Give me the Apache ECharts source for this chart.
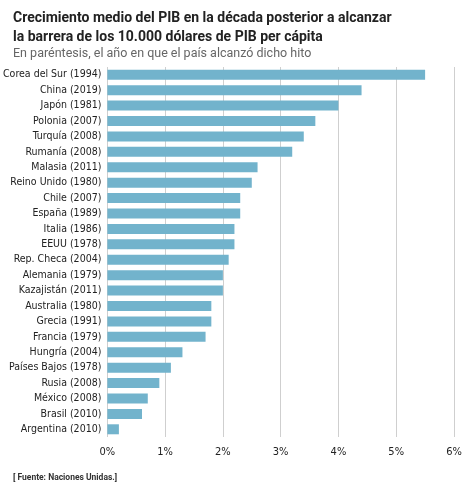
<!DOCTYPE html>
<html>
<head>
<meta charset="utf-8">
<script src="https://cdn.jsdelivr.net/npm/echarts@6/dist/echarts.min.js"></script>
<style>
html,body{margin:0;padding:0;background:#fff;}
#chart{width:474px;height:482px;}
</style>
</head>
<body>
<div id="chart"></div>
<script>
// países (de mayor a menor crecimiento)
var paises = ['Corea del Sur (1994)','China (2019)','Japón (1981)','Polonia (2007)','Turquía (2008)','Rumanía (2008)','Malasia (2011)','Reino Unido (1980)','Chile (2007)','España (1989)','Italia (1986)','EEUU (1978)','Rep. Checa (2004)','Alemania (1979)','Kazajistán (2011)','Australia (1980)','Grecia (1991)','Francia (1979)','Hungría (2004)','Países Bajos (1978)','Rusia (2008)','México (2008)','Brasil (2010)','Argentina (2010)'];
// crecimiento medio (%)
var crecimiento = [5.5,4.4,4.0,3.6,3.4,3.2,2.6,2.5,2.3,2.3,2.2,2.2,2.1,2.0,2.0,1.8,1.8,1.7,1.3,1.1,0.9,0.7,0.6,0.2];

var fuente = '"DejaVu Sans Condensed", "Liberation Sans Narrow", sans-serif';
var myChart = echarts.init(document.getElementById('chart'));
var option = {
    title: [
        {
            text: 'Crecimiento medio del PIB en la década posterior a alcanzar\nla barrera de los 10.000 dólares de PIB per cápita',
            left: 8, top: 4,
            textStyle: {fontFamily: 'Roboto, sans-serif', fontSize: 14, fontWeight: 'bold', color: '#222', lineHeight: 19}
        },
        {
            text: 'En paréntesis, el año en que el país alcanzó dicho hito',
            left: 8, top: 42,
            textStyle: {fontFamily: 'Roboto, sans-serif', fontSize: 12.5, fontWeight: 'normal', color: '#666'}
        },
        {
            text: '[ Fuente: Naciones Unidas.]',
            left: 8, top: 468,
            textStyle: {fontFamily: 'Roboto, sans-serif', fontSize: 8.5, fontWeight: 'bold', color: '#333'}
        }
    ],
    grid: {left: 107, right: 20, top: 67, bottom: 45},
    xAxis: {
        type: 'value', min: 0, max: 6, interval: 1,
        axisLabel: {formatter: '{value}%', fontFamily: fuente, fontSize: 11, color: '#222', margin: 10},
        axisLine: {show: false},
        axisTick: {show: false},
        splitLine: {lineStyle: {color: '#cfcfcf', width: 1}}
    },
    yAxis: {
        type: 'category', inverse: true, data: paises,
        axisLabel: {interval: 0, fontFamily: fuente, fontSize: 10.5, color: '#222', margin: 6},
        axisLine: {show: false},
        axisTick: {show: false}
    },
    series: [{
        type: 'bar',
        data: crecimiento,
        barWidth: 10,
        itemStyle: {color: '#72b3cc'},
        silent: true
    }]
};
myChart.setOption(option);
</script>
</body>
</html>
